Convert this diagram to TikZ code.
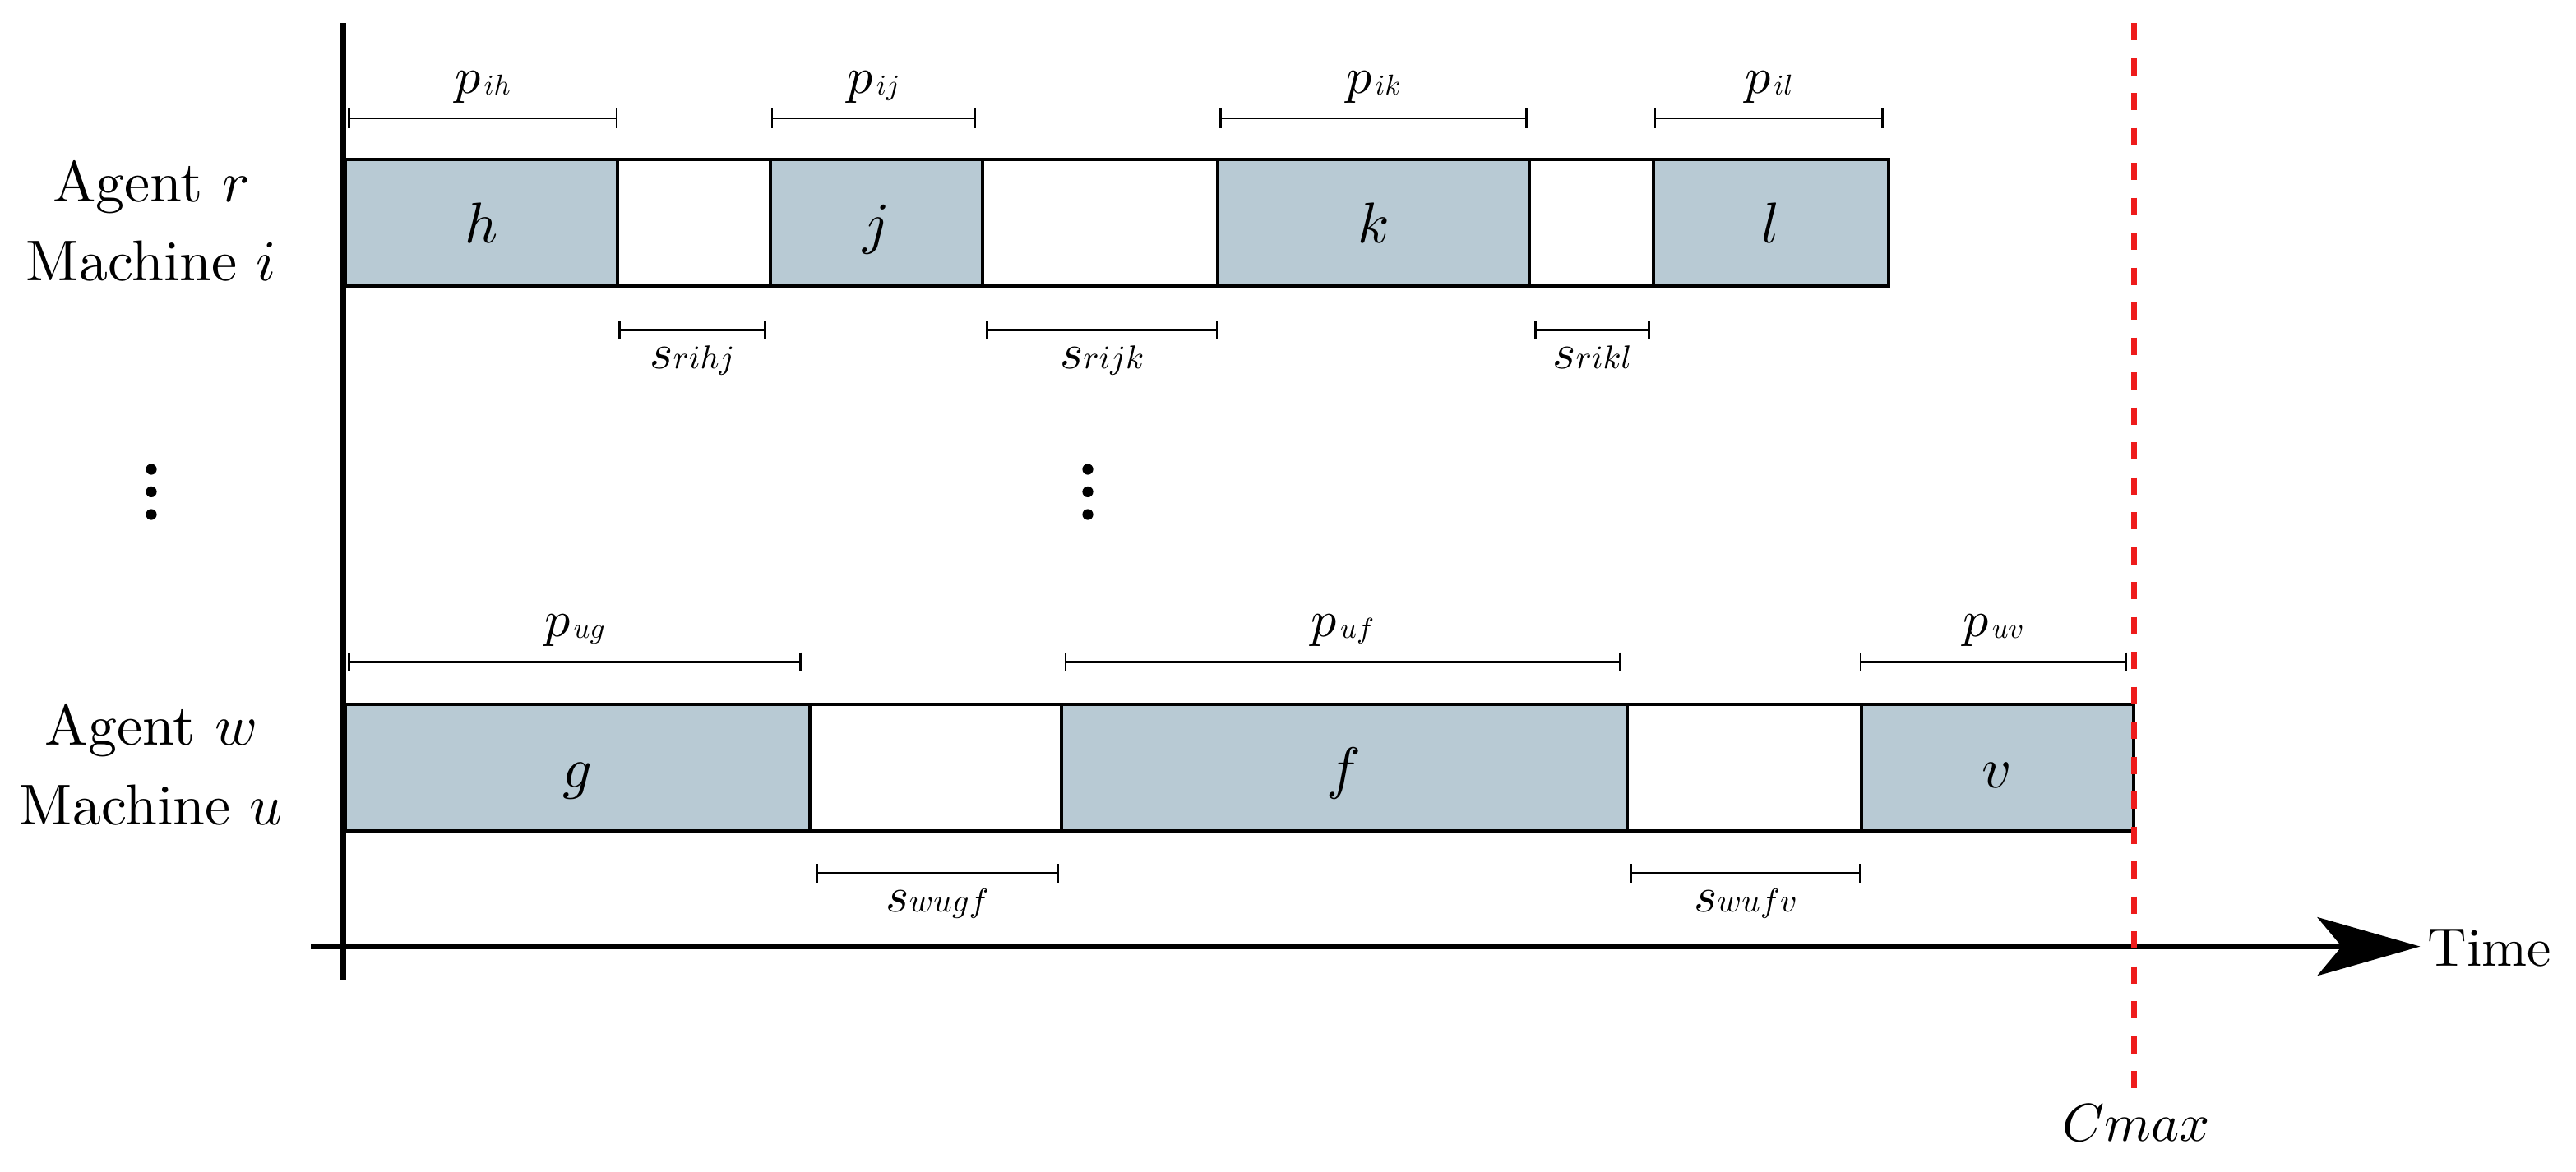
\documentclass[tikz,border=0pt]{standalone}
\usepackage{fontspec}
\setmainfont{lmroman10-regular.otf}[ItalicFont=lmroman10-italic.otf, BoldFont=lmroman10-bold.otf]
\DeclareFontShape{OML}{cmm}{m}{it}{<->cmmi10}{}
\usetikzlibrary{arrows.meta}
\definecolor{jobfill}{RGB}{184,202,212}
\definecolor{cmaxred}{RGB}{238,28,28}
\newcommand{\plab}[1]{{\fontsize{31}{32}\selectfont$p$}\hspace{2pt}\raisebox{-0.8pt}{\fontsize{17.5}{18}\selectfont$#1$}}
\newcommand{\slab}[1]{{\fontsize{30}{31}\selectfont$s$}{\fontsize{20}{21}\selectfont$#1$}}
\begin{document}
\begin{tikzpicture}[x=1pt,y=-1pt,
  job/.style={draw=black, line width=2pt, fill=jobfill, minimum height=77pt, inner sep=0pt,
    text height=24pt, text depth=0pt, font=\fontsize{35}{40}\selectfont},
  idle/.style={job, fill=white},
  dimline/.style={line width=1.3pt, {Bar[width=11.6pt]}-{Bar[width=11.6pt]}},
  axisline/.style={line width=3.5pt},
  rowlabel/.style={anchor=base, inner sep=0pt, font=\fontsize{35}{40}\selectfont},
  plabel/.style={anchor=base, yshift=15.3pt, inner sep=0pt},
  slabel/.style={anchor=base, yshift=-23.5pt, inner sep=0pt},
  cmaxline/.style={draw=cmaxred, line width=3.6pt, dash pattern=on 10.5pt off 10.75pt}
]
\useasboundingbox (0,0) rectangle (1566.5,712.5);

% row labels
\node[rowlabel] (agentr) at (92,122.5) {Agent $r$};
\node[rowlabel] (machi) at (92,170.8) {Machine $i$};
\node[rowlabel] (agentw) at (92,453.3) {Agent $w$};
\node[rowlabel] (machu) at (92,501.7) {Machine $u$};

% row 1 (machine i)
\node[job, minimum width=165.7pt] (h) at (292.85,135.6) {$h$};
\node[idle, minimum width=92.8pt] (gap1) at (422.1,135.6) {};
\node[job, minimum width=129.1pt] (j) at (533.05,135.6) {$j$};
\node[idle, minimum width=143pt] (gap2) at (669.1,135.6) {};
\node[job, minimum width=189.4pt] (k) at (835.3,135.6) {$k$};
\node[idle, minimum width=75.3pt] (gap3) at (967.65,135.6) {};
\node[job, minimum width=143.3pt] (l) at (1076.95,135.6) {$l$};

% row 2 (machine u)
\node[job, minimum width=282.5pt] (g) at (351.25,467) {$g$};
\node[idle, minimum width=153pt] (gap4) at (569,467) {};
\node[job, minimum width=343.8pt] (f) at (817.4,467) {$f$};
\node[idle, minimum width=142.5pt] (gap5) at (1060.55,467) {};
\node[job, minimum width=165.5pt] (v) at (1214.55,467) {$v$};

% dimension markers row 1
\coordinate (pihA) at (211.5,72);  \coordinate (pihB) at (375.7,72);
\coordinate (pijA) at (468.8,72);  \coordinate (pijB) at (593.7,72);
\coordinate (pikA) at (741.5,72);  \coordinate (pikB) at (929,72);
\coordinate (pilA) at (1005.8,72); \coordinate (pilB) at (1145.5,72);
\draw[dimline] (pihA) -- node[midway, plabel] (lpih) {\plab{ih}} (pihB);
\draw[dimline] (pijA) -- node[midway, plabel] (lpij) {\plab{ij}} (pijB);
\draw[dimline] (pikA) -- node[midway, plabel] (lpik) {\plab{ik}} (pikB);
\draw[dimline] (pilA) -- node[midway, plabel] (lpil) {\plab{il}} (pilB);

\coordinate (s1A) at (376,200.8);   \coordinate (s1B) at (466,200.8);
\coordinate (s2A) at (599.6,200.8); \coordinate (s2B) at (740.6,200.8);
\coordinate (s3A) at (933,200.8);   \coordinate (s3B) at (1003.5,200.8);
\draw[dimline] (s1A) -- node[midway, slabel] (ls1) {\slab{rihj}} (s1B);
\draw[dimline] (s2A) -- node[midway, slabel] (ls2) {\slab{rijk}} (s2B);
\draw[dimline] (s3A) -- node[midway, slabel] (ls3) {\slab{rikl}} (s3B);

% dimension markers row 2
\coordinate (pugA) at (211.5,402.6);  \coordinate (pugB) at (487.5,402.6);
\coordinate (pufA) at (647.3,402.6);  \coordinate (pufB) at (985.7,402.6);
\coordinate (puvA) at (1130.8,402.6); \coordinate (puvB) at (1293.7,402.6);
\draw[dimline] (pugA) -- node[midway, plabel] (lpug) {\plab{ug}} (pugB);
\draw[dimline] (pufA) -- node[midway, plabel] (lpuf) {\plab{uf}} (pufB);
\draw[dimline] (puvA) -- node[midway, plabel] (lpuv) {\plab{uv}} (puvB);

\coordinate (s4A) at (496,531.3); \coordinate (s4B) at (644,531.3);
\coordinate (s5A) at (991,531.3); \coordinate (s5B) at (1132,531.3);
\draw[dimline] (s4A) -- node[midway, slabel] (ls4) {\slab{wugf}} (s4B);
\draw[dimline] (s5A) -- node[midway, slabel] (ls5) {\slab{wufv}} (s5B);

% vertical ellipses
\foreach \yy in {285.5,299.2,313} {
  \fill (92,\yy) circle (3.3pt);
  \fill (661.5,\yy) circle (3.3pt);
}

% axes
\coordinate (ytop) at (208.9,14);
\coordinate (ybot) at (208.9,596);
\coordinate (xstart) at (188.8,575.8);
\coordinate (xend) at (1471.7,575.8);
\draw[axisline] (ytop) -- (ybot);
\draw[axisline, -{Stealth[length=62.7pt, width=35.8pt, inset=15pt, line width=0pt]}] (xstart) -- (xend);
\node[anchor=base west, inner sep=0pt, font=\fontsize{33}{40}\selectfont] (time) at (1476,587.5) {Time};

% makespan
\coordinate (ctop) at (1297.7,14);
\coordinate (cbot) at (1297.7,662);
\draw[cmaxline] (ctop) -- (cbot);
\node[anchor=base, inner sep=0pt, font=\fontsize{32.5}{40}\selectfont] (cmax) at (1299,694) {$Cmax$};
\end{tikzpicture}
\end{document}
